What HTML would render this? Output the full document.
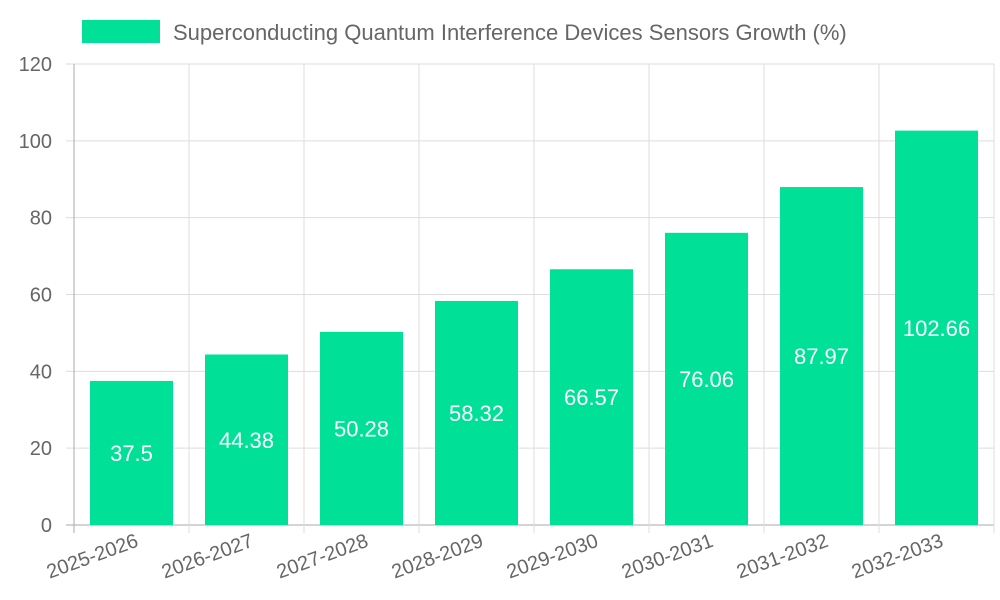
<!DOCTYPE html>
<html><head><meta charset="utf-8"><style>body{margin:0;background:#fff}svg{display:block;font-family:"Liberation Sans",sans-serif}</style></head>
<body>
<svg id="chart" width="1000" height="600">
<g>
<rect x="82" y="20" width="78" height="23" fill="#00e096"/>
<text x="173" y="40" font-size="22" fill="#666">Superconducting Quantum Interference Devices Sensors Growth (%)</text>
</g>
<g id="grid"></g><g id="bars"></g><g id="labels"></g>
</svg>
<script>
const categories=["2025-2026","2026-2027","2027-2028","2028-2029","2029-2030","2030-2031","2031-2032","2032-2033"];
const values=[37.5,44.38,50.28,58.32,66.57,76.06,87.97,102.66];
const yTicks=[0,20,40,60,80,100,120];
const ns="http://www.w3.org/2000/svg";
const L=74,R=994,T=64,B=525,yMax=120;
const y=v=>B-(v/yMax)*(B-T);
const band=(R-L)/categories.length;
const x=i=>L+band*i;
function mk(tag,attrs,parent,txt){const e=document.createElementNS(ns,tag);for(const k in attrs)e.setAttribute(k,attrs[k]);if(txt!==undefined)e.textContent=txt;document.getElementById(parent).appendChild(e);return e;}
yTicks.forEach(t=>{
 const g=mk('line',{x1:66,x2:R,y1:y(t),y2:y(t),stroke:t===0?'#aaa':'#ddd','stroke-width':1},'grid');
 
 
 const lb=mk('text',{x:52,y:y(t)+7,'font-size':20,fill:'#666','text-anchor':'end'},'labels',t);
 
 
});
for(let i=0;i<=categories.length;i++){
 const g=mk('line',{x1:x(i),x2:x(i),y1:T,y2:B+8,stroke:i===0?'#aaa':'#ddd','stroke-width':1},'grid');
 
 
}
categories.forEach((c,i)=>{
 const cx=x(i)+band/2, w=83;
 const b=mk('rect',{x:cx-w/2,y:y(values[i]),width:w,height:B-y(values[i]),fill:'#00e096'},'bars');
 
 
 const v=mk('text',{x:cx,y:(y(values[i])+B)/2+8,'font-size':22,fill:'#fff','text-anchor':'middle'},'labels',values[i]);
 
 
 const t=mk('text',{x:cx+8,y:546,'font-size':20,fill:'#666','text-anchor':'end',transform:`rotate(-20 ${cx+8} 546)`},'labels',c);
 
 
});
</script>
</body></html>
